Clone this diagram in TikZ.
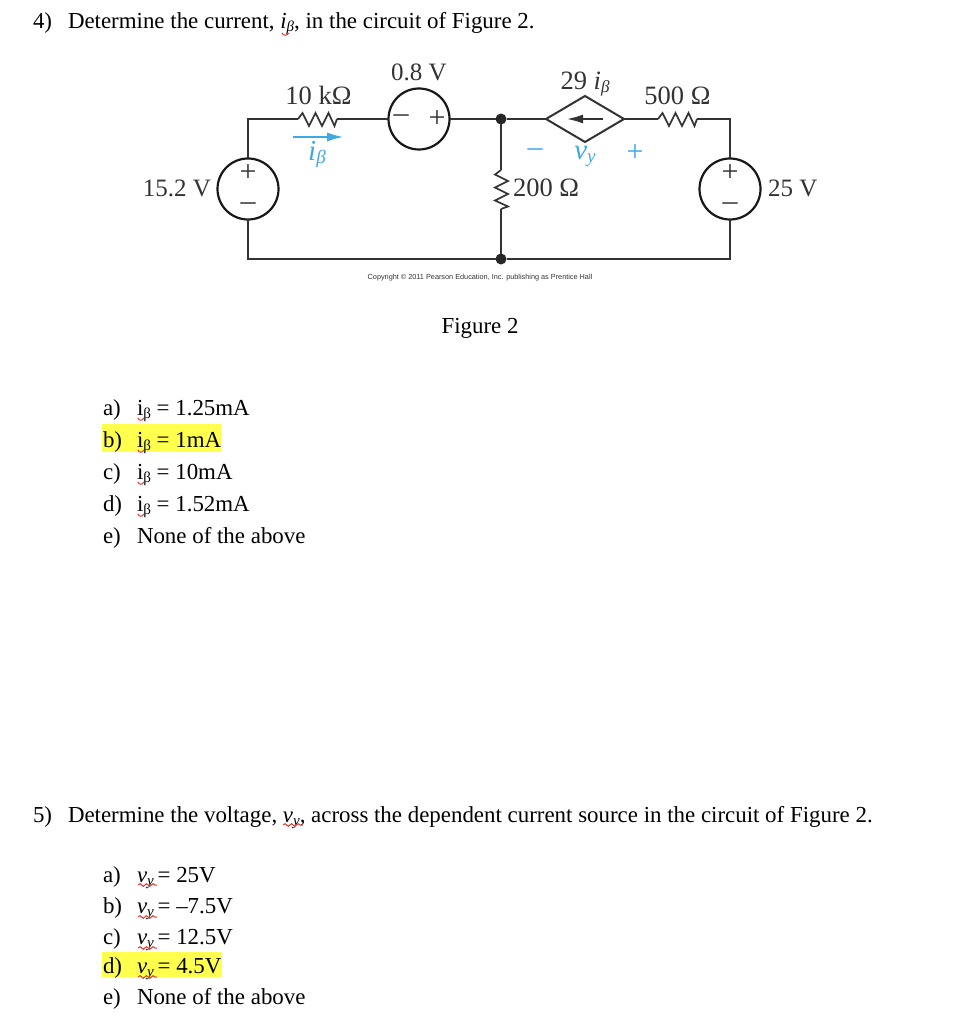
\documentclass[tikz,border=0pt]{standalone}
\usepackage{fontspec}
\setmainfont{Liberation Serif}
\newfontfamily\sansf{Liberation Sans}
\usetikzlibrary{decorations.pathmorphing,arrows.meta,shapes.geometric}
\definecolor{wire}{HTML}{333333}
\definecolor{cblue}{HTML}{3FA9E6}
\definecolor{hilite}{HTML}{FFFF4D}
\definecolor{squig}{HTML}{E0382E}
\tikzset{
  every node/.style={inner sep=0pt,outer sep=0pt},
  body/.style={anchor=base west,font=\fontsize{22.9}{26}\selectfont,text=black},
  lab/.style={font=\fontsize{25}{28}\selectfont,text=wire},
  labw/.style={font=\fontsize{26.5}{28}\selectfont,text=wire},
  labi/.style={font=\fontsize{29}{30}\selectfont,text=cblue},
  sign/.style={font=\fontsize{30}{30}\selectfont,text=wire},
  bsign/.style={font=\fontsize{30}{30}\selectfont,text=cblue},
  wireline/.style={draw=wire,line width=1.7pt},
  src/.style={circle,draw=black!90,line width=2.2pt,minimum size=61pt,fill=white},
  dot/.style={circle,fill=black!85,minimum size=11pt},
  ccs/.style={diamond,draw=wire,line width=2pt,minimum width=78pt,minimum height=46pt,aspect=1.7,fill=white},
  wavy/.style={draw=squig,line width=1pt,decorate,decoration={snake,segment length=6.5pt,amplitude=1.3pt}},
  hl/.style={fill=hilite,draw=none},
}
\newcommand{\iblab}{\textit{i}\raisebox{-3pt}{\fontsize{15}{15}\selectfont\textit{β}}}
\newcommand{\ibans}{i\raisebox{-3pt}{\fontsize{15}{15}\selectfont β}}
\newcommand{\vyans}{\textit{v}\raisebox{-3pt}{\fontsize{15}{15}\selectfont\textit{y}}}
\begin{document}
\begin{tikzpicture}[x=1pt,y=-1pt]
\useasboundingbox (0,0) rectangle (955,1024);
% highlights
\fill[hl] (102,424) rectangle (221,452);
\fill[hl] (102,952) rectangle (222,977);
% header texts
\node[body] (q4n) at (33,29) {4)};
\node[body] (q4t) at (68,29) {Determine the current, \iblab, in the circuit of Figure 2.};
\node[body] (q5n) at (33,822) {5)};
\node[body] (q5t) at (68,822) {Determine the voltage, \vyans, across the dependent current source in the circuit of Figure 2.};
% circuit anchors
\coordinate (tl) at (248,119);
\coordinate (bl) at (248,259);
\coordinate (tr) at (730,119);
\coordinate (br) at (730,259);
\coordinate (r1a) at (298,119);
\coordinate (r1b) at (337,119);
\coordinate (r2a) at (658,119);
\coordinate (r2b) at (697,119);
\coordinate (r3a) at (501,170);
\coordinate (r3b) at (501,209);
\node[src] (vl) at (248,189) {};
\node[src] (vm) at (419,119) {};
\node[src] (vr) at (730,189) {};
\node[dot] (nt) at (501,119) {};
\node[dot] (nb) at (501,259) {};
\node[ccs] (cs) at (585,119) {};
% wires
\draw[wireline] (vl.north) -- (tl) -- (r1a);
\draw[wireline] (r1b) -- (vm.west);
\draw[wireline] (vm.east) -- (nt);
\draw[wireline] (nt) -- (cs.west);
\draw[wireline] (cs.east) -- (r2a);
\draw[wireline] (r2b) -- (tr) -- (vr.north);
\draw[wireline] (vr.south) -- (br) -- (nb);
\draw[wireline] (nb) -- (bl) -- (vl.south);
\draw[wireline] (nt) -- (r3a);
\draw[wireline] (r3b) -- (nb);
% resistors
\draw[wireline,line join=miter] (r1a) -- ++(4.5,-6) -- ++(6.5,13) -- ++(6.5,-13) -- ++(6.5,13) -- ++(6.5,-13) -- ++(6,13) -- (r1b);
\draw[wireline,line join=miter] (r2a) -- ++(4.5,-6) -- ++(6.5,13) -- ++(6.5,-13) -- ++(6.5,13) -- ++(6.5,-13) -- ++(6,13) -- (r2b);
\draw[wireline,line join=miter] (r3a) -- ++(-6,4.5) -- ++(13,6.5) -- ++(-13,6.5) -- ++(13,6.5) -- ++(-13,6.5) -- ++(13,6) -- (r3b);
% source signs
\node[sign] (p1) at (248,173) {+};
\node[sign] (m1) at (248,207) {–};
\node[sign] (m2) at (401,119) {–};
\node[sign] (p2) at (437,119) {+};
\node[sign] (p3) at (730,173) {+};
\node[sign] (m3) at (730,207) {–};
% dependent source arrow
\coordinate (cs1) at (603,119);
\coordinate (cs2) at (567,119);
\draw[wire,line width=1.6pt,-{Latex[length=16pt,width=9pt]}] (cs1) -- (cs2);
% current arrow
\coordinate (ia) at (293,137);
\coordinate (ib) at (343,137);
\draw[cblue,line width=1.1pt,-{Latex[length=16pt,width=9pt]}] (ia) -- (ib);
% labels
\node[labw,anchor=base] (l10k) at (318.5,105) {10 kΩ};
\node[lab,anchor=base] (l08) at (419,81) {0.8 V};
\node[labw,anchor=base] (l29) at (585,90) {29 \textit{i}\raisebox{-3pt}{\fontsize{17}{17}\selectfont\textit{β}}};
\node[labw,anchor=base] (l500) at (677.5,105) {500 Ω};
\node[lab,anchor=base east] (l152) at (211,197) {15.2 V};
\node[lab,anchor=base west] (l25) at (768,197) {25 V};
\node[labw,anchor=base west] (l200) at (513,197) {200 Ω};
\node[labi,anchor=base] (lib) at (317,161) {\textit{i}\raisebox{-3pt}{\fontsize{19}{19}\selectfont\textit{β}}};
\node[labi,anchor=base] (lvy) at (585,160) {\textit{v}\raisebox{-3pt}{\fontsize{19}{19}\selectfont\textit{y}}};
\node[bsign] (lvm) at (535,153) {–};
\node[bsign] (lvp) at (635,153) {+};
\node[anchor=base,font=\sansf\fontsize{7.3}{8}\selectfont,text=black!80] (copy) at (480,279) {Copyright © 2011 Pearson Education, Inc. publishing as Prentice Hall};
\node[body,anchor=base] (fig) at (480,333) {Figure 2};
% Q4 answers
\node[body] (a1) at (103,415) {a)};
\node[body] (a1t) at (137,415) {\ibans\ = 1.25mA};
\node[body] (b1) at (103,447) {b)};
\node[body] (b1t) at (137,447) {\ibans\ = 1mA};
\node[body] (c1) at (103,479) {c)};
\node[body] (c1t) at (137,479) {\ibans\ = 10mA};
\node[body] (d1) at (103,511) {d)};
\node[body] (d1t) at (137,511) {\ibans\ = 1.52mA};
\node[body] (e1) at (103,543) {e)};
\node[body] (e1t) at (137,543) {None of the above};
% Q5 answers
\node[body] (a2) at (103,882) {a)};
\node[body] (a2t) at (137,882) {\vyans\,= 25V};
\node[body] (b2) at (103,913) {b)};
\node[body] (b2t) at (137,913) {\vyans\,= –7.5V};
\node[body] (c2) at (103,944) {c)};
\node[body] (c2t) at (137,944) {\vyans\,= 12.5V};
\node[body] (d2) at (103,973) {d)};
\node[body] (d2t) at (137,973) {\vyans\,= 4.5V};
\node[body] (e2) at (103,1004) {e)};
\node[body] (e2t) at (137,1004) {None of the above};
% spelling squiggles
\foreach \yy in {418,450,482,514}{
  \draw[squig,line width=1pt,line cap=round] (138,\yy) .. controls (139,\yy+3) and (142,\yy+3) .. (144,\yy);
}
\draw[squig,line width=1pt,line cap=round] (282,33) .. controls (283,36) and (287,36) .. (289,33);
\foreach \yy in {885,917,948,977}{
  \path[wavy] (138,\yy) -- (157,\yy);
}
\path[wavy] (283,825) -- (303,825);
\end{tikzpicture}
\end{document}
